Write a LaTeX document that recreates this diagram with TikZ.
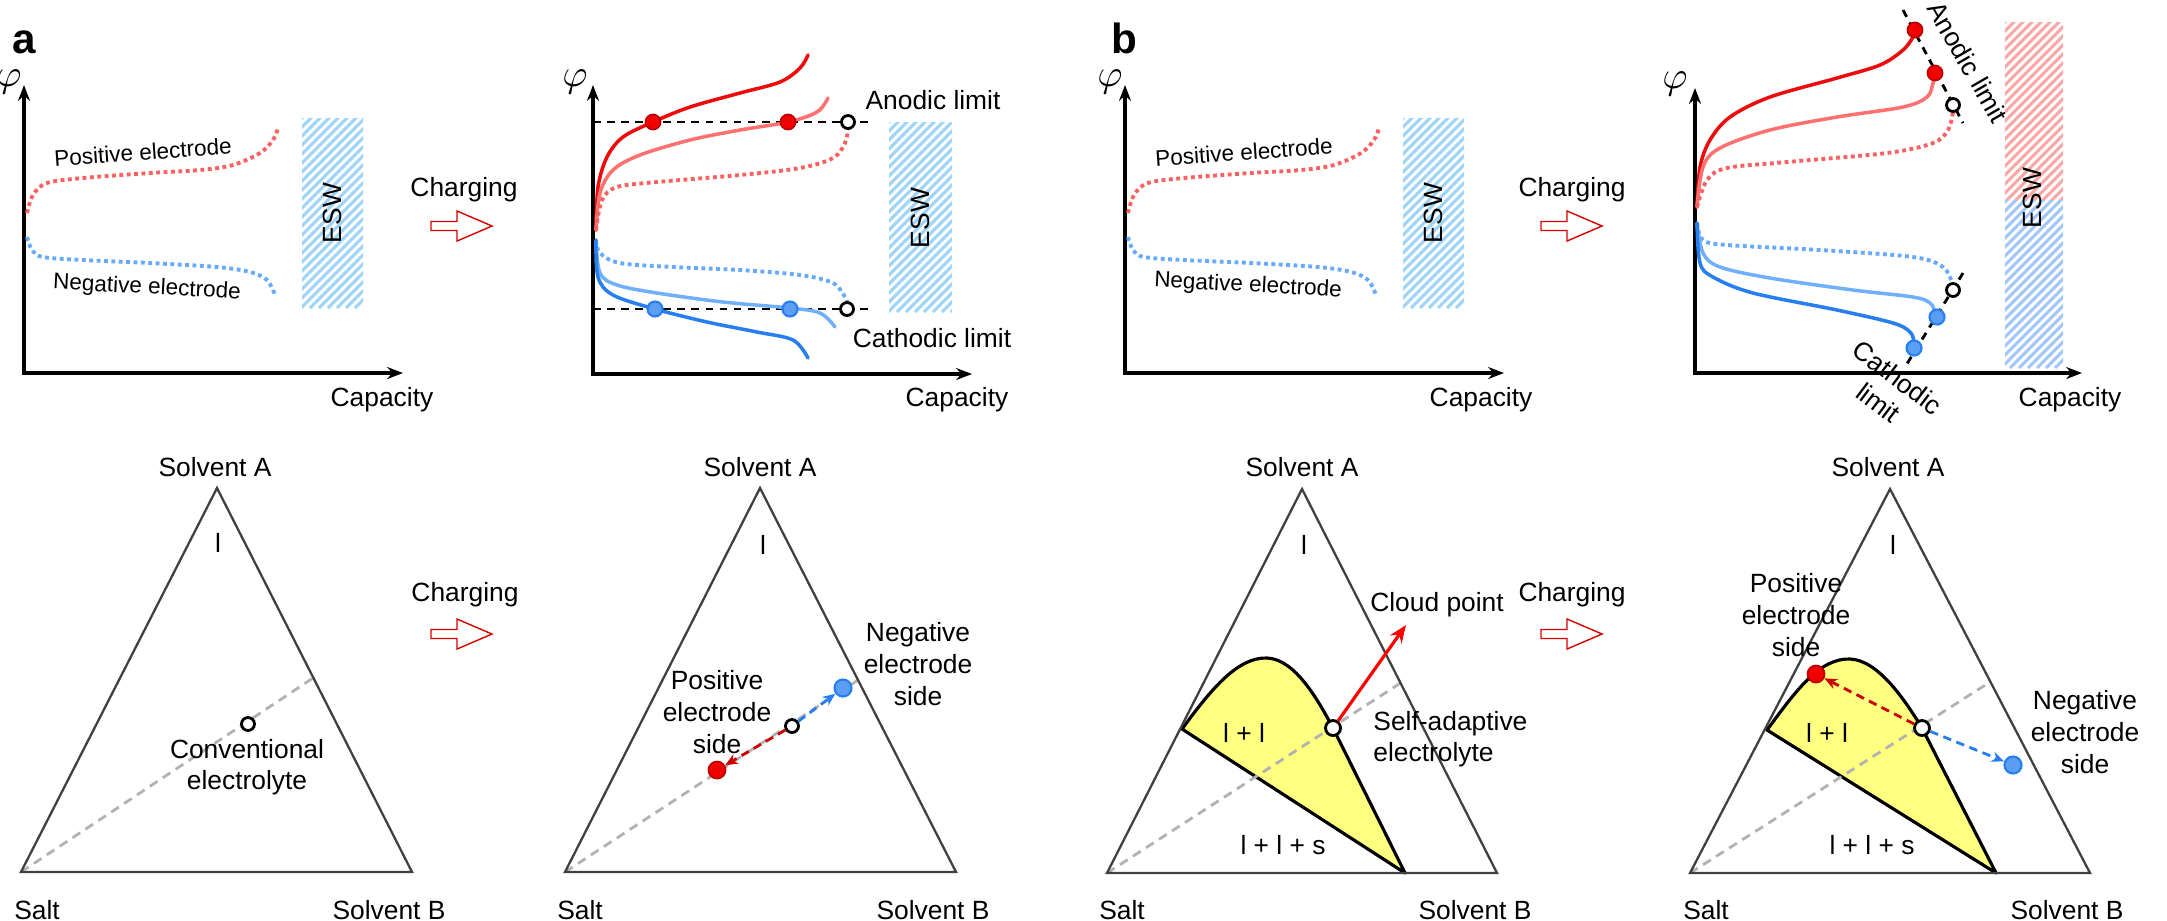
\documentclass[tikz,border=0pt]{standalone}
\usepackage{fontspec}
\setmainfont{Liberation Sans}
\usepackage{tikz}
\usetikzlibrary{arrows.meta, positioning, calc}
\definecolor{potred}{RGB}{236, 12, 12}
\definecolor{potredlt}{RGB}{255, 112, 112}
\definecolor{potreddot}{RGB}{250, 98, 98}
\definecolor{potblue}{RGB}{38, 126, 240}
\definecolor{potbluelt}{RGB}{112, 176, 250}
\definecolor{potbluedot}{RGB}{104, 170, 250}
\definecolor{eswblue}{RGB}{158, 212, 246}
\definecolor{eswblueb}{RGB}{160, 198, 250}
\definecolor{eswred}{RGB}{248, 166, 166}
\definecolor{triline}{RGB}{64, 64, 64}
\definecolor{misczone}{RGB}{255, 255, 128}

\begin{document}
\begin{tikzpicture}[
    x=0.01cm, y=-0.01cm,
    font=\fontsize{7.5}{9}\selectfont,
    axis/.style={line width=0.95pt, line join=miter, {Stealth[length=4.5pt, width=3.4pt]}-{Stealth[length=4.5pt, width=3.4pt]}},
    potcurve/.style={line width=1pt, line cap=round},
    dotcurve/.style={line width=1.1pt, dash pattern=on 1.1pt off 1pt},
    limitline/.style={black, line width=0.8pt, dash pattern=on 2.2pt off 1.8pt},
    triedge/.style={triline, line width=0.65pt, line join=miter},
    tieline/.style={gray!60, line width=0.8pt, dash pattern=on 2.6pt off 1.8pt},
    misc/.style={fill=misczone, draw=black, line width=0.9pt, line join=round},
    openpt/.style={circle, draw=black, fill=white, line width=0.8pt, minimum size=0.13cm, inner sep=0pt},
    redpt/.style={circle, draw=red!75!black, fill=red!95!black, line width=0.5pt, minimum size=0.15cm, inner sep=0pt},
    bluept/.style={circle, draw=potblue, fill=potblue!75, line width=0.6pt, minimum size=0.15cm, inner sep=0pt},
    hatch/.style={line width=0.85pt},
    lbl/.style={font=\fontsize{6.4}{7.5}\selectfont},
    ann/.style={align=center},
    esw/.style={rotate=90},
    panel/.style={font=\fontsize{12}{12}\selectfont\bfseries, anchor=base west},
    phi/.style={font=\fontsize{11}{11}\selectfont},
    movearr/.style={-{Stealth[length=3.6pt, width=3pt]}, line width=0.8pt, dash pattern=on 2.4pt off 1.6pt},
    cparr/.style={-{Stealth[length=5pt, width=4pt]}, line width=0.9pt, red},
    chgarrow/.pic={\draw[red!85!black, line width=0.4pt, fill=white] (-30.5,-4.5) -- (-4.5,-4.5) -- (-4.5,-15) -- (30.5,0) -- (-4.5,15) -- (-4.5,4.5) -- (-30.5,4.5) -- cycle;}
]
\useasboundingbox (0,0) rectangle (2167,920);

% ── a: potential profiles before charging ──
\node[panel] (laba) at (0,53) {a};
\node[phi] (phia) at (9,82) {$\varphi$};
\draw[axis] (24,85) |- (403,373);
\node (capa) at (382,400) {Capacity};
\draw[dotcurve, potreddot] plot[smooth, tension=0.55] coordinates {(27,213) (33,195) (47,183) (83,178) (150,173) (200,170) (233,165) (260,153) (273,140) (278,128)};
\draw[dotcurve, potbluedot] plot[smooth, tension=0.55] coordinates {(27,237) (32,250) (43,257) (83,260) (150,263) (217,267) (250,272) (267,280) (275,295)};
\node[lbl, rotate=4] (posa) at (143,152) {Positive electrode};
\node[lbl, rotate=-3] (nega) at (147,288) {Negative electrode};
\begin{scope}
  \clip (302,118) rectangle (363,308);
  \foreach \k in {0,...,28} \draw[hatch, eswblue] ({112+9*\k},308) -- ++(200,-200);
\end{scope}
\node[esw] (eswa) at (332,213) {ESW};

% Charging
\node (chga) at (464,190) {Charging};
\pic at (461.5,226) {chgarrow};

% ── a: potential profiles while charging ──
\node[phi] (phib) at (575,82) {$\varphi$};
\draw[axis] (593,85) |- (972,374);
\node (capb) at (957,400) {Capacity};
\coordinate (anoL) at (593,122);
\coordinate (anoR) at (873,122);
\coordinate (catL) at (593,309);
\coordinate (catR) at (873,309);
\draw[limitline] (anoL) -- (anoR);
\draw[limitline] (catL) -- (catR);
\draw[potcurve, potred] plot[smooth, tension=0.55] coordinates {(596,230) (598,187) (607,157) (623,137) (653,122) (690,107) (740,93) (780,82) (800,68) (808,55)};
\draw[potcurve, potredlt] plot[smooth, tension=0.55] coordinates {(596,230) (600,193) (613,170) (640,155) (690,140) (740,130) (788,122) (817,112) (828,98)};
\draw[dotcurve, potreddot] plot[smooth, tension=0.55] coordinates {(596,230) (602,200) (617,187) (657,182) (740,175) (800,168) (833,158) (845,143) (848,129)};
\draw[dotcurve, potbluedot] plot[smooth, tension=0.55] coordinates {(596,240) (600,253) (620,263) (673,267) (740,270) (800,275) (833,283) (845,297) (847,302)};
\draw[potcurve, potbluelt] plot[smooth, tension=0.55] coordinates {(596,240) (600,273) (617,285) (657,293) (723,302) (790,308) (820,313) (835,327)};
\draw[potcurve, potblue] plot[smooth, tension=0.55] coordinates {(596,240) (598,277) (613,295) (655,309) (707,322) (757,332) (793,340) (808,358)};
\node[redpt] (rp1) at (653,122) {};
\node[redpt] (rp2) at (788,122) {};
\node[openpt] (op1) at (848,122) {};
\node[bluept] (bp1) at (655,309) {};
\node[bluept] (bp2) at (790,309) {};
\node[openpt] (op2) at (847,309) {};
\node (anoa) at (933,100) {Anodic limit};
\node (cata) at (932,338) {Cathodic limit};
\begin{scope}
  \clip (889,122) rectangle (952,312);
  \foreach \k in {0,...,29} \draw[hatch, eswblue] ({699+9*\k},312) -- ++(200,-200);
\end{scope}
\node[esw] (eswb) at (920,218) {ESW};

% ── b: potential profiles before charging ──
\node[panel] (labb) at (1099,53) {b};
\begin{scope}[shift={(1101,0)}]
  \node[phi] (phic) at (9,82) {$\varphi$};
  \draw[axis] (24,85) |- (403,373);
  \node (capc) at (380,400) {Capacity};
  \draw[dotcurve, potreddot] plot[smooth, tension=0.55] coordinates {(27,213) (33,195) (47,183) (83,178) (150,173) (200,170) (233,165) (260,153) (273,140) (278,128)};
  \draw[dotcurve, potbluedot] plot[smooth, tension=0.55] coordinates {(27,237) (32,250) (43,257) (83,260) (150,263) (217,267) (250,272) (267,280) (275,295)};
  \node[lbl, rotate=4] (posc) at (143,152) {Positive electrode};
  \node[lbl, rotate=-3] (negc) at (147,286) {Negative electrode};
  \begin{scope}
    \clip (302,118) rectangle (363,308);
    \foreach \k in {0,...,28} \draw[hatch, eswblue] ({112+9*\k},308) -- ++(200,-200);
  \end{scope}
  \node[esw] (eswc) at (332,213) {ESW};
\end{scope}

% Charging
\node (chgb) at (1572,190) {Charging};
\pic at (1571.5,226) {chgarrow};

% ── b: potential profiles while charging ──
\node[phi] (phid) at (1675,84) {$\varphi$};
\draw[axis] (1695,88) |- (2082,373);
\node (capd) at (2070,400) {Capacity};
\coordinate (anoT) at (1903,10);
\coordinate (anoB) at (1963,123);
\coordinate (catT) at (1963,273);
\coordinate (catB) at (1905,367);
\draw[limitline] (anoT) -- (anoB);
\draw[limitline] (catT) -- (catB);
\draw[potcurve, potred] plot[smooth, tension=0.55] coordinates {(1697,207) (1700,167) (1710,140) (1730,117) (1770,97) (1837,78) (1880,65) (1903,50) (1913,37) (1915,30)};
\draw[potcurve, potredlt] plot[smooth, tension=0.55] coordinates {(1697,207) (1703,167) (1720,148) (1770,130) (1837,117) (1903,107) (1927,97) (1933,83) (1935,73)};
\draw[dotcurve, potreddot] plot[smooth, tension=0.55] coordinates {(1697,207) (1707,180) (1727,168) (1787,162) (1887,153) (1933,143) (1948,130) (1953,112)};
\draw[dotcurve, potbluedot] plot[smooth, tension=0.55] coordinates {(1697,223) (1703,240) (1727,245) (1820,250) (1913,257) (1943,267) (1952,283)};
\draw[potcurve, potbluelt] plot[smooth, tension=0.55] coordinates {(1697,223) (1703,253) (1720,267) (1770,278) (1853,290) (1913,297) (1930,303) (1935,312) (1937,317)};
\draw[potcurve, potblue] plot[smooth, tension=0.55] coordinates {(1697,223) (1700,263) (1713,277) (1753,293) (1837,310) (1893,323) (1910,332) (1914,342) (1914,348)};
\node[redpt] (rp3) at (1915,30) {};
\node[redpt] (rp4) at (1935,73) {};
\node[openpt] (op3) at (1953,105) {};
\node[openpt] (op4) at (1953,290) {};
\node[bluept] (bp3) at (1937,317) {};
\node[bluept] (bp4) at (1914,348) {};
\node[rotate=-60] (anod) at (1968,62) {Anodic limit};
\node[ann, rotate=-37] (catd) at (1888,390) {Cathodic\\limit};
\begin{scope}
  \clip (2005,22) rectangle (2063,200);
  \foreach \k in {0,...,46} \draw[hatch, eswred] ({1659+9*\k},368) -- ++(400,-400);
\end{scope}
\begin{scope}
  \clip (2005,200) rectangle (2063,368);
  \foreach \k in {0,...,46} \draw[hatch, eswblueb] ({1659+9*\k},368) -- ++(400,-400);
\end{scope}
\node[esw] (eswd) at (2032,198) {ESW};

% ── a: ternary diagram, conventional electrolyte ──
\coordinate (salt1) at (21,872);
\coordinate (solb1) at (412,872);
\coordinate (sola1) at (217,488);
\coordinate (tie1) at (313,678);
\draw[tieline] (salt1) -- (tie1);
\draw[triedge] (salt1) -- (solb1) -- (sola1) -- cycle;
\node[openpt] (ce1) at (248,724) {};
\node (tsa1) at (215,467) {Solvent A};
\node (liq1) at (218,543) {l};
\node (tsl1) at (37,910) {Salt};
\node (tsb1) at (389,910) {Solvent B};
\node[ann] (conv) at (247,767) {Conventional\\electrolyte};

% Charging
\node (chgc) at (465,595) {Charging};
\pic at (461.5,634) {chgarrow};

% ── a: ternary diagram, after charging ──
\coordinate (salt2) at (565,872);
\coordinate (solb2) at (956,872);
\coordinate (sola2) at (760,488);
\coordinate (tie2) at (858,680);
\draw[tieline] (salt2) -- (tie2);
\draw[triedge] (salt2) -- (solb2) -- (sola2) -- cycle;
\node[openpt] (ce2) at (792,726) {};
\node[bluept, minimum size=0.17cm] (neg2) at (843,688) {};
\node[redpt, minimum size=0.17cm] (pos2) at (717,770) {};
\draw[movearr, red!80!black] (ce2) -- (pos2);
\draw[movearr, potblue] (ce2) -- (neg2);
\node (tsa2) at (760,467) {Solvent A};
\node (liq2) at (763,545) {l};
\node (tsl2) at (580,910) {Salt};
\node (tsb2) at (933,910) {Solvent B};
\node[ann] (posl2) at (717,712) {Positive\\electrode\\side};
\node[ann] (negl2) at (918,664) {Negative\\electrode\\side};

% ── b: ternary diagram, self-adaptive electrolyte ──
\coordinate (salt3) at (1107,873);
\coordinate (solb3) at (1497,873);
\coordinate (sola3) at (1302,489);
\coordinate (tie3) at (1402,682);
\draw[misc] (1182,729) .. controls (1212,688) and (1238,657) .. (1267,658) .. controls (1295,659) and (1318,700) .. (1333,728) -- (1405,873) -- cycle;
\draw[tieline] (salt3) -- (tie3);
\draw[triedge] (salt3) -- (solb3) -- (sola3) -- cycle;
\node[openpt, minimum size=0.15cm] (sa3) at (1333,728) {};
\coordinate (cptip) at (1406,625);
\draw[cparr] (sa3) -- (cptip);
\node (tsa3) at (1302,467) {Solvent A};
\node (liq3) at (1304,545) {l};
\node (ll3) at (1244,733) {l + l};
\node (lls3) at (1283,845) {l + l + s};
\node (tsl3) at (1122,910) {Salt};
\node (tsb3) at (1475,910) {Solvent B};
\node (cloud) at (1437,605) {Cloud point};
\node[ann, align=left, anchor=west] (self) at (1361,739) {Self-adaptive\\electrolyte};

% Charging
\node (chgd) at (1572,595) {Charging};
\pic at (1571.5,634) {chgarrow};

% ── b: ternary diagram, after charging ──
\coordinate (salt4) at (1690,873);
\coordinate (solb4) at (2090,873);
\coordinate (sola4) at (1890,489);
\coordinate (tie4) at (1990,682);
\draw[misc] (1767,730) .. controls (1797,689) and (1820,658) .. (1850,659) .. controls (1878,660) and (1905,700) .. (1922,728) -- (1996,873) -- cycle;
\draw[tieline] (salt4) -- (tie4);
\draw[triedge] (salt4) -- (solb4) -- (sola4) -- cycle;
\node[openpt, minimum size=0.15cm] (sa4) at (1922,728) {};
\node[redpt, minimum size=0.17cm] (pos4) at (1816,674) {};
\node[bluept, minimum size=0.17cm] (neg4) at (2013,765) {};
\draw[movearr, red!80!black] (sa4) -- (pos4);
\draw[movearr, potblue] (sa4) -- (neg4);
\node (tsa4) at (1888,467) {Solvent A};
\node (liq4) at (1893,545) {l};
\node (ll4) at (1827,733) {l + l};
\node (lls4) at (1872,845) {l + l + s};
\node (tsl4) at (1706,910) {Salt};
\node (tsb4) at (2067,910) {Solvent B};
\node[ann] (posl4) at (1796,615) {Positive\\electrode\\side};
\node[ann] (negl4) at (2085,732) {Negative\\electrode\\side};

\end{tikzpicture}
\end{document}
